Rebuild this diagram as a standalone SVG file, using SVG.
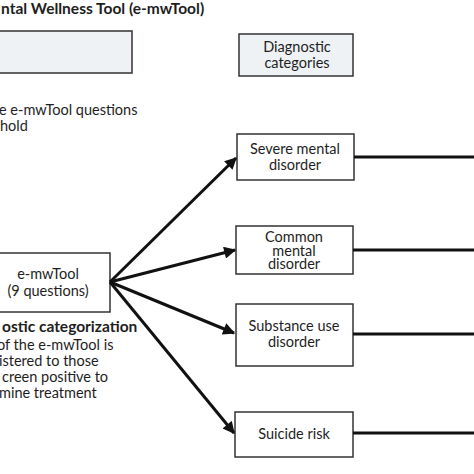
<svg xmlns="http://www.w3.org/2000/svg" width="474" height="474" viewBox="0 0 474 474">
<defs>
<style>
.t{font-family:Lato,"Open Sans","Liberation Sans",sans-serif;font-size:14.5px;fill:#1e1e1e}
.b{font-weight:bold;font-size:15.5px}
.box{fill:#fff;stroke:#333;stroke-width:1.5}
.hd{fill:#eef2f5;stroke:#333;stroke-width:1.5}
.c{text-anchor:middle}
.ln{stroke:#111;stroke-width:3;fill:none}
</style>
<marker id="ah" viewBox="0 0 10 10" refX="9" refY="5" markerWidth="4.5" markerHeight="4" orient="auto" markerUnits="strokeWidth">
<path d="M0,0 L10,5 L0,10 z" fill="#111"/>
</marker>
</defs>
<rect width="474" height="474" fill="#fff"/>
<text class="t b" x="1" y="14">ntal Wellness Tool (e-mwTool)</text>
<g id="hdr-left"><rect class="hd" x="-2" y="31" width="134" height="42"/></g>
<text class="t" x="-1" y="115">e e-mwTool questions</text>
<text class="t" x="0" y="131">hold</text>
<g id="hdr-right"><rect class="hd" x="239" y="34" width="114" height="42"/>
<text class="t c" x="297" y="52">Diagnostic</text>
<text class="t c" x="297" y="68">categories</text></g>
<g id="emw"><rect class="box" x="-14" y="253" width="124" height="59"/>
<text class="t c" x="48" y="279">e-mwTool</text>
<text class="t c" x="48" y="296">(9 questions)</text></g>
<text class="t b" x="2" y="332">ostic categorization</text>
<text class="t" x="-3" y="350">of the e-mwTool is</text>
<text class="t" x="-1" y="366">istered to those</text>
<text class="t" x="2" y="382">creen positive to</text>
<text class="t" x="-1" y="398">mine treatment</text>
<g id="severe"><rect class="box" x="237" y="134" width="117" height="46"/>
<text class="t c" x="295" y="154">Severe mental</text>
<text class="t c" x="295" y="170">disorder</text></g>
<g id="common"><rect class="box" x="236" y="226" width="117" height="48"/>
<text class="t c" x="294" y="242">Common</text>
<text class="t c" x="294" y="255.5">mental</text>
<text class="t c" x="294" y="268.5">disorder</text></g>
<g id="substance"><rect class="box" x="236" y="304" width="117" height="62"/>
<text class="t c" x="294" y="331">Substance use</text>
<text class="t c" x="294" y="347">disorder</text></g>
<g id="suicide"><rect class="box" x="235" y="412" width="118" height="45"/>
<text class="t c" x="294" y="439">Suicide risk</text></g>
<g id="connectors">
<path class="ln" d="M110,282 L236,158" marker-end="url(#ah)"/>
<path class="ln" d="M110,282 L235,250" marker-end="url(#ah)"/>
<path class="ln" d="M110,282 L234,333" marker-end="url(#ah)"/>
<path class="ln" d="M110,282 L234,433" marker-end="url(#ah)"/>
<path class="ln" d="M354,157 H474"/>
<path class="ln" d="M353,250 H474"/>
<path class="ln" d="M353,334 H474"/>
<path class="ln" d="M353,433 H474"/>
</g>
</svg>
